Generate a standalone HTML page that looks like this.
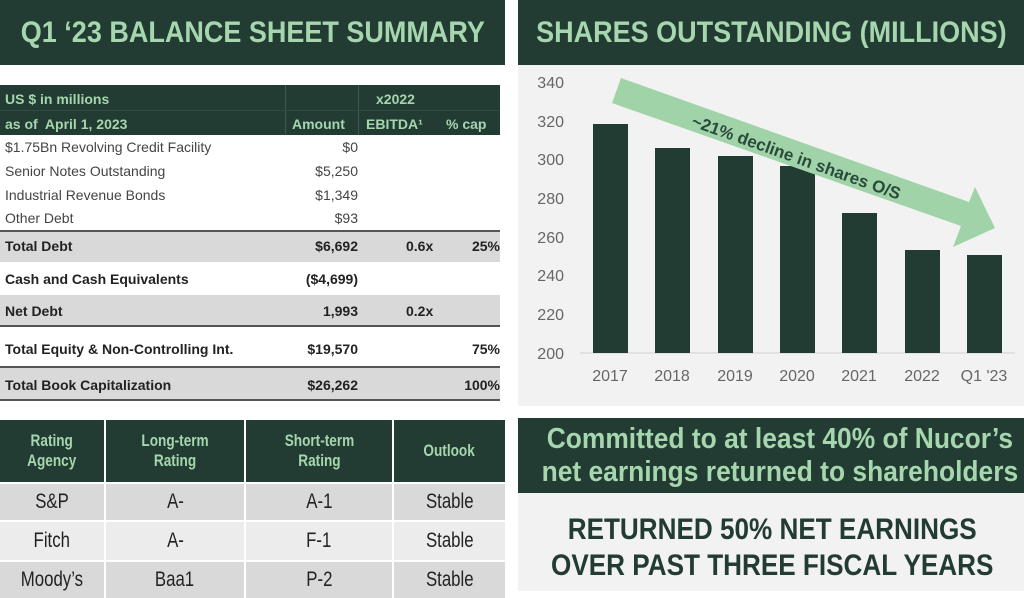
<!DOCTYPE html>
<html><head><meta charset="utf-8"><style>
*{margin:0;padding:0;box-sizing:border-box}
body{width:1024px;height:591px;overflow:hidden;background:#fff;font-family:"Liberation Sans",sans-serif;position:relative}
.abs{position:absolute}
.hdr{background:#223b33;color:#a6d6ae;font-weight:bold;display:flex;align-items:center;justify-content:center;white-space:nowrap}
.hdr span{display:inline-block;font-size:30px;transform:scaleX(0.9)}
.t{position:absolute;font-size:14px;color:#444;white-space:nowrap}
.b{font-weight:bold;color:#222}
.r{text-align:right}
.cell{position:absolute;display:flex;align-items:center;justify-content:center;text-align:center;white-space:nowrap}
.cell span{display:inline-block;transform:scaleX(0.8)}
.h{font-weight:bold}
</style></head><body>
<div class="abs hdr" style="left:0;top:0;width:505px;height:65px"><span>Q1 ‘23 BALANCE SHEET SUMMARY</span></div>
<div class="abs hdr" style="left:518px;top:0;width:506px;height:65px"><span>SHARES OUTSTANDING (MILLIONS)</span></div>

<!-- balance table -->
<div class="abs" style="left:0;top:85px;width:500px;height:50px;background:#223b33"></div>
<div class="abs" style="left:285px;top:85px;width:1px;height:50px;background:#3d5a4f"></div>
<div class="abs" style="left:358px;top:85px;width:1px;height:50px;background:#3d5a4f"></div>
<div class="abs" style="left:0;top:110px;width:500px;height:1px;background:#2f4c42"></div>
<div class="t b" style="left:5px;top:91px;color:#a6d6ae">US $ in millions</div>
<div class="t b" style="left:5px;top:116px;color:#a6d6ae">as of&nbsp; April 1, 2023</div>
<div class="t b" style="left:376px;top:91px;color:#a6d6ae">x2022</div>
<div class="t b" style="left:292px;top:116px;color:#a6d6ae">Amount</div>
<div class="t b" style="left:366px;top:116px;color:#a6d6ae">EBITDA¹</div>
<div class="t b" style="left:446px;top:116px;color:#a6d6ae">% cap</div>

<div class="t" style="left:5px;top:139px">$1.75Bn Revolving Credit Facility</div>
<div class="t" style="left:5px;top:163px">Senior Notes Outstanding</div>
<div class="t" style="left:5px;top:187px">Industrial Revenue Bonds</div>
<div class="t" style="left:5px;top:210px">Other Debt</div>
<div class="t r" style="left:258px;width:100px;top:139px">$0</div>
<div class="t r" style="left:258px;width:100px;top:163px">$5,250</div>
<div class="t r" style="left:258px;width:100px;top:187px">$1,349</div>
<div class="t r" style="left:258px;width:100px;top:210px">$93</div>

<div class="abs" style="left:0;top:230px;width:500px;height:32px;background:#d9d9d9;border-top:2px solid #555"></div>
<div class="abs" style="left:0;top:295px;width:500px;height:32px;background:#d9d9d9;border-bottom:2px solid #555"></div>
<div class="abs" style="left:0;top:366px;width:500px;height:35px;background:#d9d9d9;border-top:2px solid #555;border-bottom:2px solid #555"></div>

<div class="t b" style="left:5px;top:238px">Total Debt</div>
<div class="t b r" style="left:258px;width:100px;top:238px">$6,692</div>
<div class="t b" style="left:406px;top:238px">0.6x</div>
<div class="t b r" style="left:400px;width:100px;top:238px">25%</div>
<div class="t b" style="left:5px;top:271px">Cash and Cash Equivalents</div>
<div class="t b r" style="left:258px;width:100px;top:271px">($4,699)</div>
<div class="t b" style="left:5px;top:303px">Net Debt</div>
<div class="t b r" style="left:258px;width:100px;top:303px">1,993</div>
<div class="t b" style="left:406px;top:303px">0.2x</div>
<div class="t b" style="left:5px;top:341px">Total Equity &amp; Non-Controlling Int.</div>
<div class="t b r" style="left:258px;width:100px;top:341px">$19,570</div>
<div class="t b r" style="left:400px;width:100px;top:341px">75%</div>
<div class="t b" style="left:5px;top:377px">Total Book Capitalization</div>
<div class="t b r" style="left:258px;width:100px;top:377px">$26,262</div>
<div class="t b r" style="left:400px;width:100px;top:377px">100%</div>

<!-- rating table -->
<div class="cell h" style="left:0;top:420px;width:104px;height:62px;background:#223b33;color:#a6d6ae;font-size:17px;line-height:20px"><span>Rating<br>Agency</span></div>
<div class="cell h" style="left:106px;top:420px;width:138px;height:62px;background:#223b33;color:#a6d6ae;font-size:17px;line-height:20px"><span>Long-term<br>Rating</span></div>
<div class="cell h" style="left:246px;top:420px;width:146px;height:62px;background:#223b33;color:#a6d6ae;font-size:17px;line-height:20px"><span>Short-term<br>Rating</span></div>
<div class="cell h" style="left:394px;top:420px;width:111px;height:62px;background:#223b33;color:#a6d6ae;font-size:17px"><span>Outlook</span></div>

<div class="cell" style="left:0;top:484px;width:104px;height:36px;background:#d9d9d9;font-size:21px;color:#222"><span>S&amp;P</span></div>
<div class="cell" style="left:106px;top:484px;width:138px;height:36px;background:#d9d9d9;font-size:21px;color:#222"><span>A-</span></div>
<div class="cell" style="left:246px;top:484px;width:146px;height:36px;background:#d9d9d9;font-size:21px;color:#222"><span>A-1</span></div>
<div class="cell" style="left:394px;top:484px;width:111px;height:36px;background:#d9d9d9;font-size:21px;color:#222"><span>Stable</span></div>

<div class="cell" style="left:0;top:522px;width:104px;height:38px;background:#ececec;font-size:21px;color:#222"><span>Fitch</span></div>
<div class="cell" style="left:106px;top:522px;width:138px;height:38px;background:#ececec;font-size:21px;color:#222"><span>A-</span></div>
<div class="cell" style="left:246px;top:522px;width:146px;height:38px;background:#ececec;font-size:21px;color:#222"><span>F-1</span></div>
<div class="cell" style="left:394px;top:522px;width:111px;height:38px;background:#ececec;font-size:21px;color:#222"><span>Stable</span></div>

<div class="cell" style="left:0;top:562px;width:104px;height:36px;background:#d9d9d9;font-size:21px;color:#222"><span>Moody’s</span></div>
<div class="cell" style="left:106px;top:562px;width:138px;height:36px;background:#d9d9d9;font-size:21px;color:#222"><span>Baa1</span></div>
<div class="cell" style="left:246px;top:562px;width:146px;height:36px;background:#d9d9d9;font-size:21px;color:#222"><span>P-2</span></div>
<div class="cell" style="left:394px;top:562px;width:111px;height:36px;background:#d9d9d9;font-size:21px;color:#222"><span>Stable</span></div>

<!-- chart -->
<svg class="abs" style="left:0;top:0" width="1024" height="591">
<rect x="518" y="65" width="506" height="341" fill="#f2f2f2"/>
<rect x="518" y="493" width="506" height="98" fill="#f2f2f2"/>
<g font-family="Liberation Sans,sans-serif" font-size="16" fill="#666" text-anchor="end">
<text x="564" y="88">340</text><text x="564" y="127">320</text><text x="564" y="165">300</text>
<text x="564" y="204">280</text><text x="564" y="243">260</text><text x="564" y="281">240</text>
<text x="564" y="320">220</text><text x="564" y="359">200</text>
</g>
<line x1="580" y1="353" x2="1015" y2="353" stroke="#d0d0d0" stroke-width="1"/>
<g fill="#223b33">
<rect x="593" y="124" width="35" height="229"/>
<rect x="655" y="148" width="35" height="205"/>
<rect x="718" y="156" width="35" height="197"/>
<rect x="780" y="166" width="35" height="187"/>
<rect x="842" y="213" width="35" height="140"/>
<rect x="905" y="250" width="35" height="103"/>
<rect x="967" y="255" width="35" height="98"/>
</g>
<g font-family="Liberation Sans,sans-serif" font-size="16" fill="#666" text-anchor="middle">
<text x="610" y="381">2017</text><text x="672" y="381">2018</text><text x="735" y="381">2019</text>
<text x="797" y="381">2020</text><text x="859" y="381">2021</text><text x="922" y="381">2022</text>
<text x="984" y="381">Q1 '23</text>
</g>
<polygon points="621,78 969,202 975,187 995,228 953,247 961,226 612,103" fill="#a0d4a8"/>
<text x="796" y="163" transform="rotate(19.6 796 158)" font-family="Liberation Sans,sans-serif" font-weight="bold" font-size="17" fill="#2a4a3c" text-anchor="middle">~21% decline in shares O/S</text>
</svg>

<div class="abs" style="left:518px;top:418px;width:506px;height:75px;background:#223b33;color:#a6d6ae;font-weight:bold;font-size:29px;text-align:center;line-height:33px;padding-top:5px;white-space:nowrap;overflow:hidden"><span style="display:inline-block;transform:scaleX(0.91)">Committed to at least 40% of Nucor’s<br>net earnings returned to shareholders</span></div>
<div class="abs" style="left:518px;top:512px;width:506px;color:#223b33;font-weight:bold;font-size:30px;text-align:center;line-height:36px;white-space:nowrap"><span style="display:inline-block;transform:scaleX(0.87)">RETURNED 50% NET EARNINGS<br>OVER PAST THREE FISCAL YEARS</span></div>
</body></html>
